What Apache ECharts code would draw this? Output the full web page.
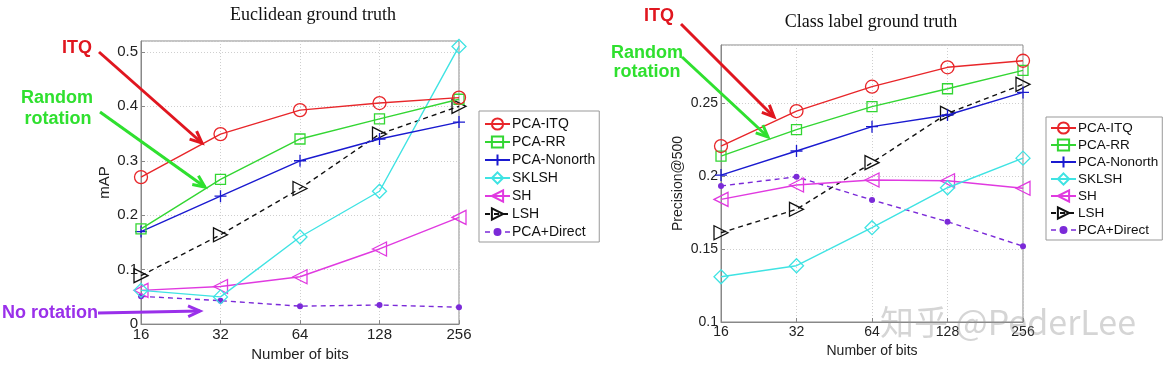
<!DOCTYPE html>
<html>
<head>
<meta charset="utf-8">
<script src="https://cdn.jsdelivr.net/npm/echarts@6/dist/echarts.min.js"></script>
<style>html,body{margin:0;padding:0;background:#fff}#c{width:1171px;height:367px}</style>
</head>
<body>
<div id="c"></div>
<script>
// ---- data ----
const bits = ['16', '32', '64', '128', '256'];
const names = ['PCA-ITQ', 'PCA-RR', 'PCA-Nonorth', 'SKLSH', 'SH', 'LSH', 'PCA+Direct'];

// Euclidean ground truth (mAP)
const eucItq     = [0.270, 0.349, 0.393, 0.406, 0.416];
const eucRr      = [0.175, 0.266, 0.340, 0.377, 0.413];
const eucNonorth = [0.170, 0.235, 0.300, 0.340, 0.371];
const eucSklsh   = [0.062, 0.050, 0.160, 0.244, 0.510];
const eucSh      = [0.062, 0.069, 0.087, 0.138, 0.196];
const eucLsh     = [0.089, 0.164, 0.249, 0.349, 0.400];
const eucDirect  = [0.051, 0.043, 0.033, 0.035, 0.031];

// Class label ground truth (Precision@500)
const clsItq     = [0.2207, 0.2447, 0.2614, 0.2747, 0.2792];
const clsRr      = [0.2138, 0.2319, 0.2477, 0.2600, 0.2726];
const clsNonorth = [0.2008, 0.2173, 0.2340, 0.2420, 0.2575];
const clsSklsh   = [0.1310, 0.1386, 0.1647, 0.1921, 0.2124];
const clsSh      = [0.1841, 0.1940, 0.1974, 0.1969, 0.1917];
const clsLsh     = [0.1612, 0.1773, 0.2093, 0.2431, 0.2630];
const clsDirect  = [0.1933, 0.1996, 0.1837, 0.1688, 0.1520];

const eucTicks = [0, 0.1, 0.2, 0.3, 0.4, 0.5];
const clsTicks = [0.1, 0.15, 0.2, 0.25];

// ---- styles ----
const colors = ['#e8262a', '#33d633', '#1a1ad0', '#3fe3e3', '#e03ae0', '#111111', '#7b2ad8'];
const symbols = ['circle', 'rect', 'path://M5,0 L5,10 M0,5 L10,5', 'diamond',
                 'path://M0,5 L10,0 L10,10 Z', 'path://M10,5 L0,0 L0,10 Z', 'circle'];
const symSizes = [13, 10, 12, 14, 14, 14, 6];
const dashed = [false, false, false, false, false, true, true];

const eucData = [eucItq, eucRr, eucNonorth, eucSklsh, eucSh, eucLsh, eucDirect];
const clsData = [clsItq, clsRr, clsNonorth, clsSklsh, clsSh, clsLsh, clsDirect];

function mkSeries(dataArr, idx) {
  return names.map((n, i) => ({
    name: n,
    type: 'line',
    xAxisIndex: idx, yAxisIndex: idx,
    data: dataArr[i],
    symbol: symbols[i],
    symbolSize: symSizes[i],
    showAllSymbol: true,
    z: 10 - i,
    lineStyle: { color: colors[i], width: 1.4, type: dashed[i] ? [5, 4] : 'solid' },
    itemStyle: i === 6
      ? { color: colors[i], borderColor: colors[i], borderWidth: 0 }
      : { color: 'rgba(0,0,0,0)', borderColor: colors[i], borderWidth: 1.3 },
    emphasis: { disabled: true },
    animation: false
  }));
}

const font = 'Liberation Sans, Arial, sans-serif';

function mkX(gi) {
  return {
    type: 'category', gridIndex: gi, data: bits, boundaryGap: false,
    name: 'Number of bits', nameLocation: 'middle', nameGap: 17,
    nameTextStyle: { fontFamily: font, fontSize: gi === 0 ? 15 : 14, color: '#222' },
    axisLine: { lineStyle: { color: '#888' } },
    axisTick: { inside: true, length: 4, lineStyle: { color: '#888' } },
    axisLabel: { fontFamily: font, fontSize: gi === 0 ? 15 : 14, color: '#222', margin: 3 },
    splitLine: { show: true, lineStyle: { color: '#cfcfcf', type: [1, 2] } }
  };
}
function mkY(gi, ticks, max, name, gap) {
  const interval = ticks[1] - ticks[0];
  return {
    type: 'value', gridIndex: gi, min: ticks[0], max: max, interval: interval,
    name: name, nameLocation: 'middle', nameGap: gap, nameRotate: 90,
    nameTextStyle: { fontFamily: font, fontSize: gi === 0 ? 15 : 14, color: '#222' },
    axisLine: { show: true, lineStyle: { color: '#888' } },
    axisTick: { show: true, inside: true, length: 4, lineStyle: { color: '#888' } },
    axisLabel: {
      fontFamily: font, fontSize: gi === 0 ? 15 : 14, color: '#222', margin: 3, showMaxLabel: false,
      formatter: v => {
        const m = ticks.find(t => Math.abs(t - v) < 1e-9);
        return m === undefined ? '' : String(m);
      }
    },
    splitLine: { show: true, lineStyle: { color: '#cfcfcf', type: [1, 2] } }
  };
}

function arrow(x1, y1, x2, y2, color, w) {
  const ang = Math.atan2(y2 - y1, x2 - x1);
  const L = 13, a = 0.42;
  const p1 = [x2 - L * Math.cos(ang - a), y2 - L * Math.sin(ang - a)];
  const p2 = [x2 - L * Math.cos(ang + a), y2 - L * Math.sin(ang + a)];
  return [
    { type: 'line', shape: { x1, y1, x2, y2 }, style: { stroke: color, lineWidth: w }, z: 50 },
    { type: 'polyline', shape: { points: [p1, [x2, y2], p2] }, style: { stroke: color, lineWidth: w, fill: null }, z: 50 }
  ];
}
function label(text, x, y, color, size, extra) {
  return Object.assign({
    type: 'text', x, y, z: 50,
    style: { text, fill: color, font: 'bold ' + size + 'px ' + font, align: 'center', verticalAlign: 'middle' }
  }, extra || {});
}

const red = '#e0161f', green = '#2fe02f', purple = '#9a30ea';

const graphics = [
  { type: 'text', x: 313, y: 15, style: { text: 'Euclidean ground truth', fill: '#111', font: '18px "Liberation Serif", "DejaVu Serif", serif', align: 'center', verticalAlign: 'middle' } },
  { type: 'text', x: 871, y: 22, style: { text: 'Class label ground truth', fill: '#111', font: '18px "Liberation Serif", "DejaVu Serif", serif', align: 'center', verticalAlign: 'middle' } },
  label('ITQ', 77, 48, red, 18),
  label('Random', 57, 98, green, 18),
  label('rotation', 58, 119, green, 18),
  label('No rotation', 50, 313, purple, 18),
  ...arrow(99, 52, 202, 143, red, 3),
  ...arrow(100, 112, 205, 187, green, 3),
  ...arrow(98, 313, 200, 311, purple, 3),
  label('ITQ', 659, 16, red, 18),
  label('Random', 647, 53, green, 18),
  label('rotation', 647, 72, green, 18),
  ...arrow(681, 24, 774, 117, red, 3),
  ...arrow(682, 57, 768, 137, green, 3),
  { type: 'text', x: 1008, y: 322, z: 60, style: { text: '知乎 @PederLee', fill: 'rgba(150,150,150,0.4)', font: '34px "Noto Sans CJK SC", sans-serif', align: 'center', verticalAlign: 'middle' } }
];

// dashed line with small dot, for the PCA+Direct legend entry
const directIcon = 'path://M0,6.3 L5,6.3 L5,7.7 L0,7.7 Z M8.5,7 A3,3 0 1 1 16.5,7 A3,3 0 1 1 8.5,7 Z M20,6.3 L25,6.3 L25,7.7 L20,7.7 Z M0,0 L0.01,0 L0.01,0.01 Z M0,14 L0.01,14 L0.01,13.99 Z';

function mkLegend(left, top, fs, gap, pad) {
  return {
    left, top, orient: 'vertical',
    data: names.map((n, i) => i === 6 ? { name: n, icon: directIcon, itemStyle: { color: colors[6], borderWidth: 0 } } : n),
    itemWidth: 25, itemHeight: 14, itemGap: gap, padding: pad,
    backgroundColor: '#fff', borderColor: '#999', borderWidth: 1, borderRadius: 0,
    textStyle: { fontFamily: font, fontSize: fs, color: '#111', padding: [0, 0, 0, -3] },
    selectedMode: false
  };
}

const option = {
  animation: false,
  backgroundColor: '#fff',
  grid: [
    { left: 141, right: 712, top: 41, bottom: 38, show: true, borderColor: '#888', borderWidth: 1, containLabel: false },
    { left: 721, right: 148, top: 45, bottom: 45, show: true, borderColor: '#888', borderWidth: 1, containLabel: false }
  ],
  xAxis: [mkX(0), mkX(1)],
  yAxis: [mkY(0, eucTicks, 0.52, 'mAP', 29), mkY(1, clsTicks, 0.29, 'Precision@500', 36)],
  legend: [mkLegend(479, 111, 14, 4, [6, 4, 3, 5]), mkLegend(1046, 117, 13.5, 3, [4, 4, 3, 4])],
  series: [...mkSeries(eucData, 0), ...mkSeries(clsData, 1)],
  graphic: graphics
};

const chart = echarts.init(document.getElementById('c'), null, { renderer: 'canvas' });
chart.setOption(option);
</script>
</body>
</html>
